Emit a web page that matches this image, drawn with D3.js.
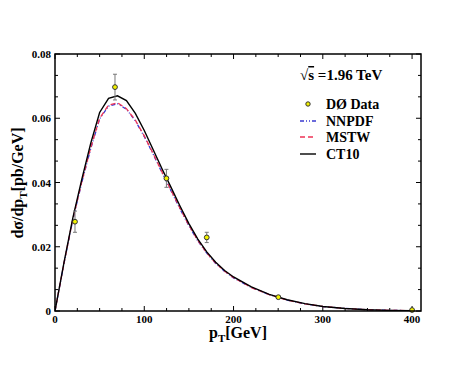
<!DOCTYPE html>
<html>
<head>
<meta charset="utf-8">
<script src="https://cdn.jsdelivr.net/npm/d3@7"></script>
<style>
  body { margin: 0; background: #fff; }
  svg text { font-family: "Liberation Serif", "Times New Roman", serif; font-weight: bold; }
</style>
</head>
<body>
<div id="chart"></div>
<script>
// pT grid for the theory curves
var ptGrid = [0, 10, 20, 30, 40, 50, 60, 70, 80, 90, 100, 110, 120, 130, 140, 150, 160, 170, 180, 190, 200, 220, 240, 260, 280, 300, 325, 350, 375, 400];
var ct10 = [0, 0.0150, 0.0290, 0.0410, 0.0522, 0.0618, 0.0662, 0.0670, 0.0655, 0.0615, 0.0562, 0.0502, 0.0442, 0.0385, 0.0327, 0.0272, 0.0224, 0.0184, 0.0152, 0.0126, 0.0106, 0.0075, 0.0052, 0.0035, 0.0023, 0.0014, 0.0008, 0.0004, 0.0002, 0.0001];
var nnpdf = [0, 0.0147, 0.0284, 0.0400, 0.0505, 0.0598, 0.0638, 0.0645, 0.0628, 0.0592, 0.0543, 0.0488, 0.0430, 0.0374, 0.0318, 0.0265, 0.0218, 0.0180, 0.0148, 0.0123, 0.0103, 0.0073, 0.0051, 0.0034, 0.0022, 0.0014, 0.0008, 0.0004, 0.0002, 0.0001];
var mstw = [0, 0.0148, 0.0286, 0.0402, 0.0508, 0.0600, 0.0641, 0.0648, 0.0630, 0.0594, 0.0545, 0.0490, 0.0432, 0.0376, 0.0320, 0.0267, 0.0220, 0.0181, 0.0149, 0.0124, 0.0104, 0.0073, 0.0051, 0.0034, 0.0022, 0.0014, 0.0008, 0.0004, 0.0002, 0.0001];

// D0 data
var dataPt = [22.4, 67.2, 124.8, 170, 250.2, 400];
var dataY = [0.0278, 0.0697, 0.0413, 0.0229, 0.0043, 0.0003];
var dataErr = [0.0033, 0.0040, 0.0028, 0.0016, 0.0003, 0.0003];

var xTicks = [0, 100, 200, 300, 400];
var yTicks = [0, 0.02, 0.04, 0.06, 0.08];

var width = 474, height = 366;
var margin = {left: 55, right: 53, top: 54, bottom: 55};

var svg = d3.select('#chart')
  .append('svg')
  .attr('width', width)
  .attr('height', height)

var x = d3.scaleLinear().domain([0, 410]).range([margin.left, width - margin.right]);
var y = d3.scaleLinear().domain([0, 0.08]).range([height - margin.bottom, margin.top]);

var xMinor = d3.range(0, 410, 25).filter(v => v % 100 != 0);
var yMinor = d3.range(0, 0.08, 0.02 / 3).filter((v, i) => i % 3 != 0);

var x0 = x.range()[0], x1 = x.range()[1], y0 = y.range()[0], y1 = y.range()[1];

// inward ticks on all four sides
function tickSet(vals, len) {
  vals.forEach(function (v) {
    svg.append('line').attr('x1', x(v)).attr('x2', x(v)).attr('y1', y0).attr('y2', y0 - len).attr('stroke', '#000').attr('stroke-width', 1);
    svg.append('line').attr('x1', x(v)).attr('x2', x(v)).attr('y1', y1).attr('y2', y1 + len).attr('stroke', '#000').attr('stroke-width', 1);
  });
}
function tickSetY(vals, len) {
  vals.forEach(function (v) {
    svg.append('line').attr('y1', y(v)).attr('y2', y(v)).attr('x1', x0).attr('x2', x0 + len).attr('stroke', '#000').attr('stroke-width', 1);
    svg.append('line').attr('y1', y(v)).attr('y2', y(v)).attr('x1', x1).attr('x2', x1 - len).attr('stroke', '#000').attr('stroke-width', 1);
  });
}
tickSet(xTicks, 5);
tickSet(xMinor, 3);
tickSetY(yTicks, 5);
tickSetY(yMinor, 3);

// tick labels
svg.selectAll('.xl').data(xTicks).join('text')
  .attr('x', d => x(d)).attr('y', y0 + 12)
  .attr('text-anchor', 'middle').attr('font-size', 11).text(d => d);
svg.selectAll('.yl').data(yTicks).join('text')
  .attr('x', x0 - 4).attr('y', d => y(d) + 4)
  .attr('text-anchor', 'end').attr('font-size', 11).text(d => d == 0 ? '0' : d3.format('.2f')(d));

// curves
var line = d3.line().x((d, i) => x(ptGrid[i])).y(d => y(d));
var clip = svg.append('clipPath').attr('id', 'clip').append('rect')
  .attr('x', x0).attr('y', y1).attr('width', x1 - x0).attr('height', y0 - y1);
var plot = svg.append('g').attr('clip-path', 'url(#clip)');

plot.append('path').datum(nnpdf).attr('d', line).attr('fill', 'none')
  .attr('stroke', '#3a3ad0').attr('stroke-width', 1.3).attr('stroke-dasharray', '4,2,1,2,1,2');
plot.append('path').datum(mstw).attr('d', line).attr('fill', 'none')
  .attr('stroke', '#ee3355').attr('stroke-width', 1.3).attr('stroke-dasharray', '5,3');
plot.append('path').datum(ct10).attr('d', line).attr('fill', 'none')
  .attr('stroke', '#000').attr('stroke-width', 1.4);

// data with error bars
dataPt.forEach(function (p, i) {
  var g = svg.append('g');
  var top = y(dataY[i] + dataErr[i]), bot = y(dataY[i] - dataErr[i]);
  g.append('line').attr('x1', x(p)).attr('x2', x(p)).attr('y1', top).attr('y2', bot).attr('stroke', '#777').attr('stroke-width', 1);
  g.append('line').attr('x1', x(p) - 2).attr('x2', x(p) + 2).attr('y1', top).attr('y2', top).attr('stroke', '#777').attr('stroke-width', 1);
  g.append('line').attr('x1', x(p) - 2).attr('x2', x(p) + 2).attr('y1', bot).attr('y2', bot).attr('stroke', '#777').attr('stroke-width', 1);
  g.append('circle').attr('cx', x(p)).attr('cy', y(dataY[i])).attr('r', 2.4)
    .attr('fill', '#f2f200').attr('stroke', '#333').attr('stroke-width', 1);
});

// frame
svg.append('rect').attr('x', x0).attr('y', y1).attr('width', x1 - x0).attr('height', y0 - y1)
  .attr('fill', 'none').attr('stroke', '#000').attr('stroke-width', 1.5);

// axis titles
var xt = svg.append('text').attr('x', 238).attr('y', 338).attr('text-anchor', 'middle').attr('font-size', 16);
xt.append('tspan').text('p');
xt.append('tspan').attr('font-size', 11).attr('dy', 4).text('T');
xt.append('tspan').attr('dy', -4).text('[GeV]');

var yt = svg.append('text').attr('transform', 'translate(23,183) rotate(-90)').attr('text-anchor', 'middle').attr('font-size', 16);
yt.append('tspan').text('dσ/dp');
yt.append('tspan').attr('font-size', 11).attr('dy', 4).text('T');
yt.append('tspan').attr('dy', -4).text('[pb/GeV]');

// energy label
var es = svg.append('text').attr('x', 300).attr('y', 80).attr('font-size', 15);
es.append('tspan').attr('font-weight', 'normal').text('√');
es.append('tspan').attr('text-decoration', 'overline').text('s');
es.append('tspan').text(' =1.96 TeV');

// legend
var legY = [104, 121, 137, 154];
var legNames = ['DØ Data', 'NNPDF', 'MSTW', 'CT10'];
svg.append('circle').attr('cx', 308).attr('cy', legY[0]).attr('r', 2.2)
  .attr('fill', '#f2f200').attr('stroke', '#333').attr('stroke-width', 1);
svg.append('line').attr('x1', 300).attr('x2', 316).attr('y1', legY[1]).attr('y2', legY[1])
  .attr('stroke', '#3a3ad0').attr('stroke-width', 1.3).attr('stroke-dasharray', '4,2,1,2,1,2');
svg.append('line').attr('x1', 300).attr('x2', 316).attr('y1', legY[2]).attr('y2', legY[2])
  .attr('stroke', '#ee3355').attr('stroke-width', 1.3).attr('stroke-dasharray', '5,3');
svg.append('line').attr('x1', 300).attr('x2', 316).attr('y1', legY[3]).attr('y2', legY[3])
  .attr('stroke', '#000').attr('stroke-width', 1.4);
svg.selectAll('.leg').data(legNames).join('text')
  .attr('x', 326).attr('y', (d, i) => legY[i] + 5)
  .attr('font-size', 14).text(d => d);
</script>
</body>
</html>
